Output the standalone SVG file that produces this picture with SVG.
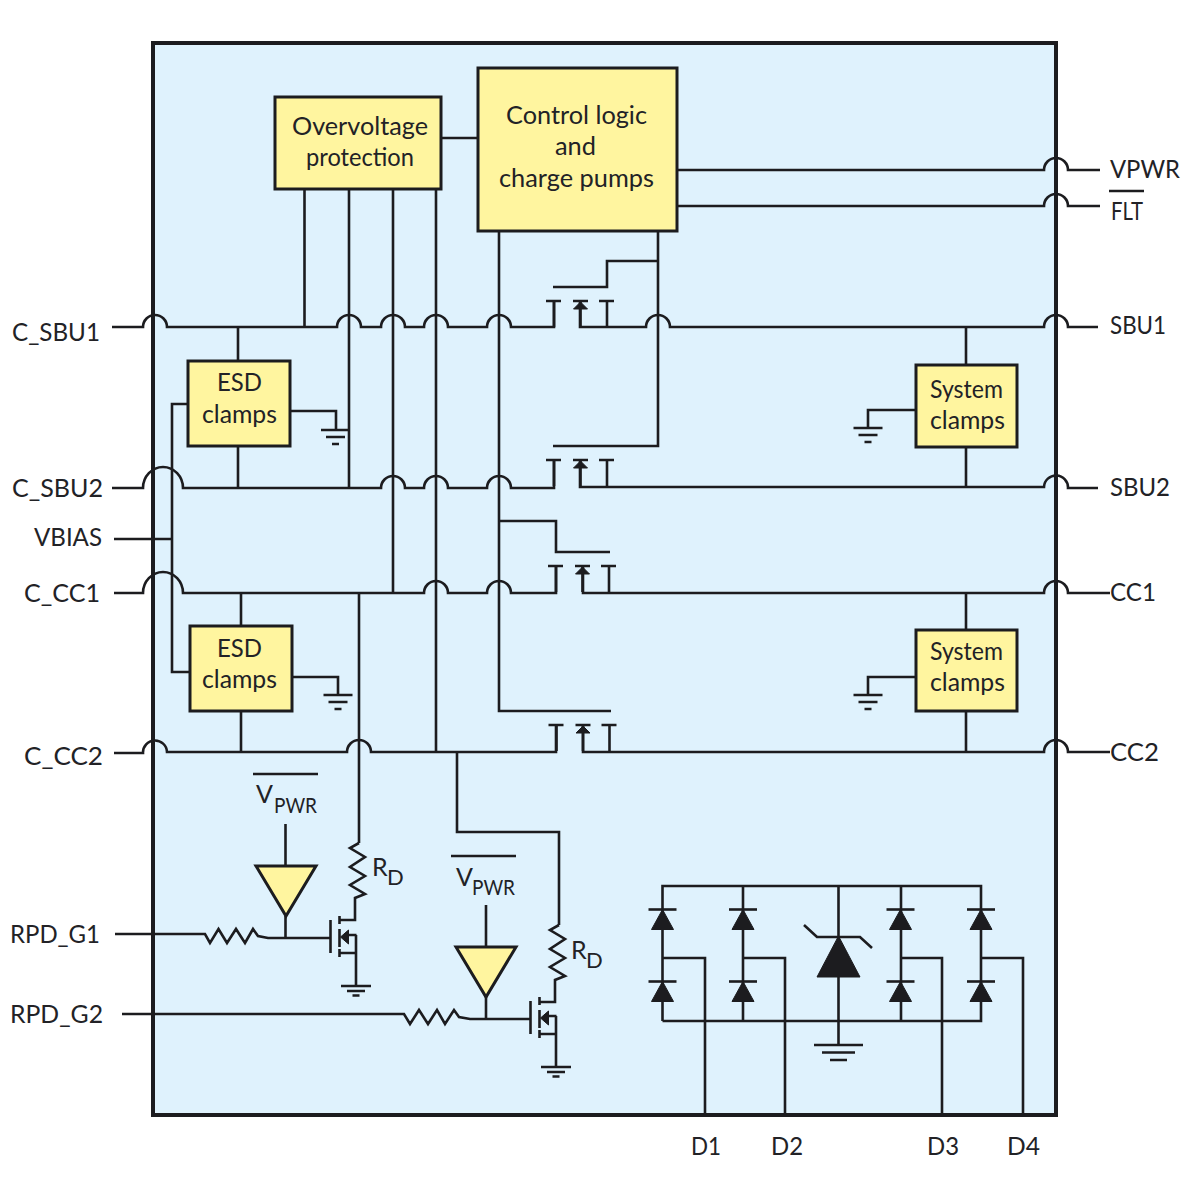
<svg xmlns="http://www.w3.org/2000/svg" xmlns:xlink="http://www.w3.org/1999/xlink" width="1200" height="1184" viewBox="0 0 1200 1184">
<style>
.w{fill:none;stroke:#1c1c1f;stroke-width:2.6;stroke-linejoin:miter}
.b{fill:#fff59f;stroke:#1c1c1f;stroke-width:3}
.k{fill:#1c1c1f;stroke:#1c1c1f;stroke-width:1}
text{font-family:"Lato","Liberation Sans",sans-serif;font-size:25px;fill:#222226}
.s{font-size:22px}
</style>
<defs>
<g id="gnd"><path class="w" d="M-14.5 0H14.5M-9.5 7H9.5M-3.5 14H3.5"/></g>
<g id="gnd2"><path class="w" d="M-15 0H15M-9 5H9M-3.500 9.500H3.500"/></g>
<g id="sw"><path class="w" d="M-8 0H7M0 0V26M19 0H34M26.500 0V26M45 0H60M53 0V26"/><path class="k" d="M26.500 1L33.500 8H19.500Z"/></g>
<g id="mos"><path class="w" d="M0-17V16M9-21V-13M9-8V10M9 12V20M9 16H26M18-2H26"/><path class="k" d="M10 0L18-7V7Z"/></g>
<g id="dio"><path class="w" d="M-14 0H14"/><path class="k" d="M0 0L11 20H-11Z"/></g>
</defs>
<rect id="frame" x="153" y="43" width="903" height="1072" fill="#dff2fd" stroke="#1c1c1f" stroke-width="4"/>
<g id="connectors">
<path class="w" d="M677 170H1044A12 12 0 0 1 1068 170H1100"/>
<path class="w" d="M677 206H1044A12 12 0 0 1 1068 206H1100"/>
<path class="w" d="M441 138H478"/>
<path class="w" d="M304.500 189V327M349 189V487M393 189V593M436 189V752M499 231V711H611M658 231V446H553M658 261H607V287H553M499 521H556V552H610"/>
<path class="w" d="M112 327H143A12 12 0 0 1 167 327H337A12 12 0 0 1 361 327H381A12 12 0 0 1 405 327H424A12 12 0 0 1 448 327H487A12 12 0 0 1 511 327H554V301M580 301V327H646A12 12 0 0 1 670 327H1044A12 12 0 0 1 1068 327H1098"/>
<path class="w" d="M112 488H143A20 21 0 0 1 183 488H381A12 12 0 0 1 405 488H424A12 12 0 0 1 448 488H487A12 12 0 0 1 511 488H554V460M580 460V487H1044A12 12 0 0 1 1068 488H1098"/>
<path class="w" d="M114 593H143A20 21 0 0 1 183 593H424A12 12 0 0 1 448 593H487A12 12 0 0 1 511 593H556V566M583 566V593H1044A12 12 0 0 1 1068 593H1110"/>
<path class="w" d="M114 753H143A12 12 0 0 1 167 752H347A12 12 0 0 1 371 752H556V725M583 725V752H1044A12 12 0 0 1 1068 752H1110"/>
<path class="w" d="M114 539H172M187 404H172V672H190"/>
<path class="w" d="M238 327V361M238 446V488M241 593V626M241 711V752M966 327V365M966 447V488M966 593V630M966 711V752"/>
<path class="w" d="M290 411H336V430M292 677H338V695M915 410H868V428M916 677H868V695"/>
<path class="w" d="M359 593V843M457 752V832H559V925"/>
<path class="w" d="M115 934H205L210 943L218.500 929L227 943L236 929L245 943L253 929L258 936L268 938H331"/>
<path class="w" d="M122 1014H404L410 1024L419 1010L428 1024L437 1010L445 1024L454 1010L459 1017L470 1019H531"/>
<path class="w" d="M285.500 824V866M285.500 916V938M486 905V947M486 996V1019"/>
<path class="w" d="M359 843L350 848L365 857L350 867L365 876L350 885L365 894L355 898V920H339M356 935V986"/>
<path class="w" d="M559 925L550 930L565 939L550 949L565 958L550 967L565 976L555 980V1002H539M556 1016V1067"/>
<path class="w" d="M662.500 1021V886H981V1021H662.500M743 886V1021M901 886V1021M838.500 886V1045"/>
<path class="w" d="M662.500 958H705V1115M743 958H785V1115M901 958H942V1115M981 958H1023V1115"/>
<path class="w" d="M253 774H318M451 856H516M1109 191H1144"/>
</g>
<g id="overvoltage"><rect class="b" x="275" y="97" width="166" height="92"/><text x="292" y="135" textLength="136" lengthAdjust="spacingAndGlyphs">Overvoltage</text><text x="306" y="166" textLength="108" lengthAdjust="spacingAndGlyphs">protection</text></g>
<g id="control"><rect class="b" x="478" y="68" width="199" height="163"/><text x="506" y="124" textLength="141" lengthAdjust="spacingAndGlyphs">Control logic</text><text x="555" y="155" textLength="41" lengthAdjust="spacingAndGlyphs">and</text><text x="499" y="187" textLength="155" lengthAdjust="spacingAndGlyphs">charge pumps</text></g>
<g id="esd1"><rect class="b" x="188" y="361" width="102" height="85"/><text x="217" y="391" textLength="45" lengthAdjust="spacingAndGlyphs">ESD</text><text x="202" y="423" textLength="75" lengthAdjust="spacingAndGlyphs">clamps</text></g>
<g id="esd2"><rect class="b" x="190" y="626" width="102" height="85"/><text x="217" y="657" textLength="45" lengthAdjust="spacingAndGlyphs">ESD</text><text x="202" y="688" textLength="75" lengthAdjust="spacingAndGlyphs">clamps</text></g>
<g id="sys1"><rect class="b" x="916" y="365" width="101" height="82"/><text x="930" y="398" textLength="73" lengthAdjust="spacingAndGlyphs">System</text><text x="930" y="429" textLength="75" lengthAdjust="spacingAndGlyphs">clamps</text></g>
<g id="sys2"><rect class="b" x="916" y="630" width="101" height="81"/><text x="930" y="660" textLength="73" lengthAdjust="spacingAndGlyphs">System</text><text x="930" y="691" textLength="75" lengthAdjust="spacingAndGlyphs">clamps</text></g>
<g id="switches"><use xlink:href="#sw" href="#sw" x="554" y="301"/><use xlink:href="#sw" href="#sw" x="554" y="460"/><use xlink:href="#sw" href="#sw" x="556" y="566"/><use xlink:href="#sw" href="#sw" x="556.500" y="725"/></g>
<g id="grounds"><use href="#gnd" xlink:href="#gnd" x="335.500" y="430"/><use href="#gnd" xlink:href="#gnd" x="338" y="695"/><use href="#gnd" xlink:href="#gnd" x="868" y="428"/><use href="#gnd" xlink:href="#gnd" x="868" y="695"/><use href="#gnd2" xlink:href="#gnd2" x="356" y="986"/><use href="#gnd2" xlink:href="#gnd2" x="556" y="1067"/><path class="w" d="M814 1045H863M822 1052.500H855M830 1060H847"/></g>
<g id="buffers"><path class="b" d="M256 866H316L286 916Z"/><path class="b" d="M456 947H516L486 997Z"/></g>
<g id="mosfets"><use href="#mos" xlink:href="#mos" x="330.500" y="937"/><use href="#mos" xlink:href="#mos" x="530.500" y="1018"/></g>
<g id="bridge">
<use href="#dio" xlink:href="#dio" x="662.500" y="909.500"/><use href="#dio" xlink:href="#dio" x="743" y="909.500"/><use href="#dio" xlink:href="#dio" x="900.500" y="909.500"/><use href="#dio" xlink:href="#dio" x="981" y="909.500"/>
<use href="#dio" xlink:href="#dio" x="662.500" y="981.500"/><use href="#dio" xlink:href="#dio" x="743" y="981.500"/><use href="#dio" xlink:href="#dio" x="900.500" y="981.500"/><use href="#dio" xlink:href="#dio" x="981" y="981.500"/>
<path class="k" d="M838.500 936L860 977H817Z"/><path class="w" d="M804 925L817 937H860L872 948"/>
</g>
<g id="labels">
<text x="12" y="341" textLength="88" lengthAdjust="spacingAndGlyphs">C_SBU1</text>
<text x="12" y="497" textLength="91" lengthAdjust="spacingAndGlyphs">C_SBU2</text>
<text x="34" y="546" textLength="68" lengthAdjust="spacingAndGlyphs">VBIAS</text>
<text x="24" y="602" textLength="76" lengthAdjust="spacingAndGlyphs">C_CC1</text>
<text x="24" y="765" textLength="79" lengthAdjust="spacingAndGlyphs">C_CC2</text>
<text x="10" y="943" textLength="90" lengthAdjust="spacingAndGlyphs">RPD_G1</text>
<text x="10" y="1023" textLength="93" lengthAdjust="spacingAndGlyphs">RPD_G2</text>
<text x="1110" y="178" textLength="70" lengthAdjust="spacingAndGlyphs">VPWR</text>
<text x="1111" y="220" textLength="32" lengthAdjust="spacingAndGlyphs">FLT</text>
<text x="1110" y="334" textLength="56" lengthAdjust="spacingAndGlyphs">SBU1</text>
<text x="1110" y="496" textLength="60" lengthAdjust="spacingAndGlyphs">SBU2</text>
<text x="1110" y="601" textLength="46" lengthAdjust="spacingAndGlyphs">CC1</text>
<text x="1110" y="761" textLength="49" lengthAdjust="spacingAndGlyphs">CC2</text>
<text x="691" y="1155" textLength="30" lengthAdjust="spacingAndGlyphs">D1</text>
<text x="771" y="1155" textLength="32" lengthAdjust="spacingAndGlyphs">D2</text>
<text x="927" y="1155" textLength="32" lengthAdjust="spacingAndGlyphs">D3</text>
<text x="1007" y="1155" textLength="33" lengthAdjust="spacingAndGlyphs">D4</text>
<text x="256" y="803">V</text><text class="s" x="274" y="813" textLength="43" lengthAdjust="spacingAndGlyphs">PWR</text>
<text x="456" y="886">V</text><text class="s" x="472" y="895" textLength="43" lengthAdjust="spacingAndGlyphs">PWR</text>
<text x="372" y="876">R</text><text class="s" x="387" y="885">D</text>
<text x="571" y="959">R</text><text class="s" x="586" y="968">D</text>
</g>
</svg>
